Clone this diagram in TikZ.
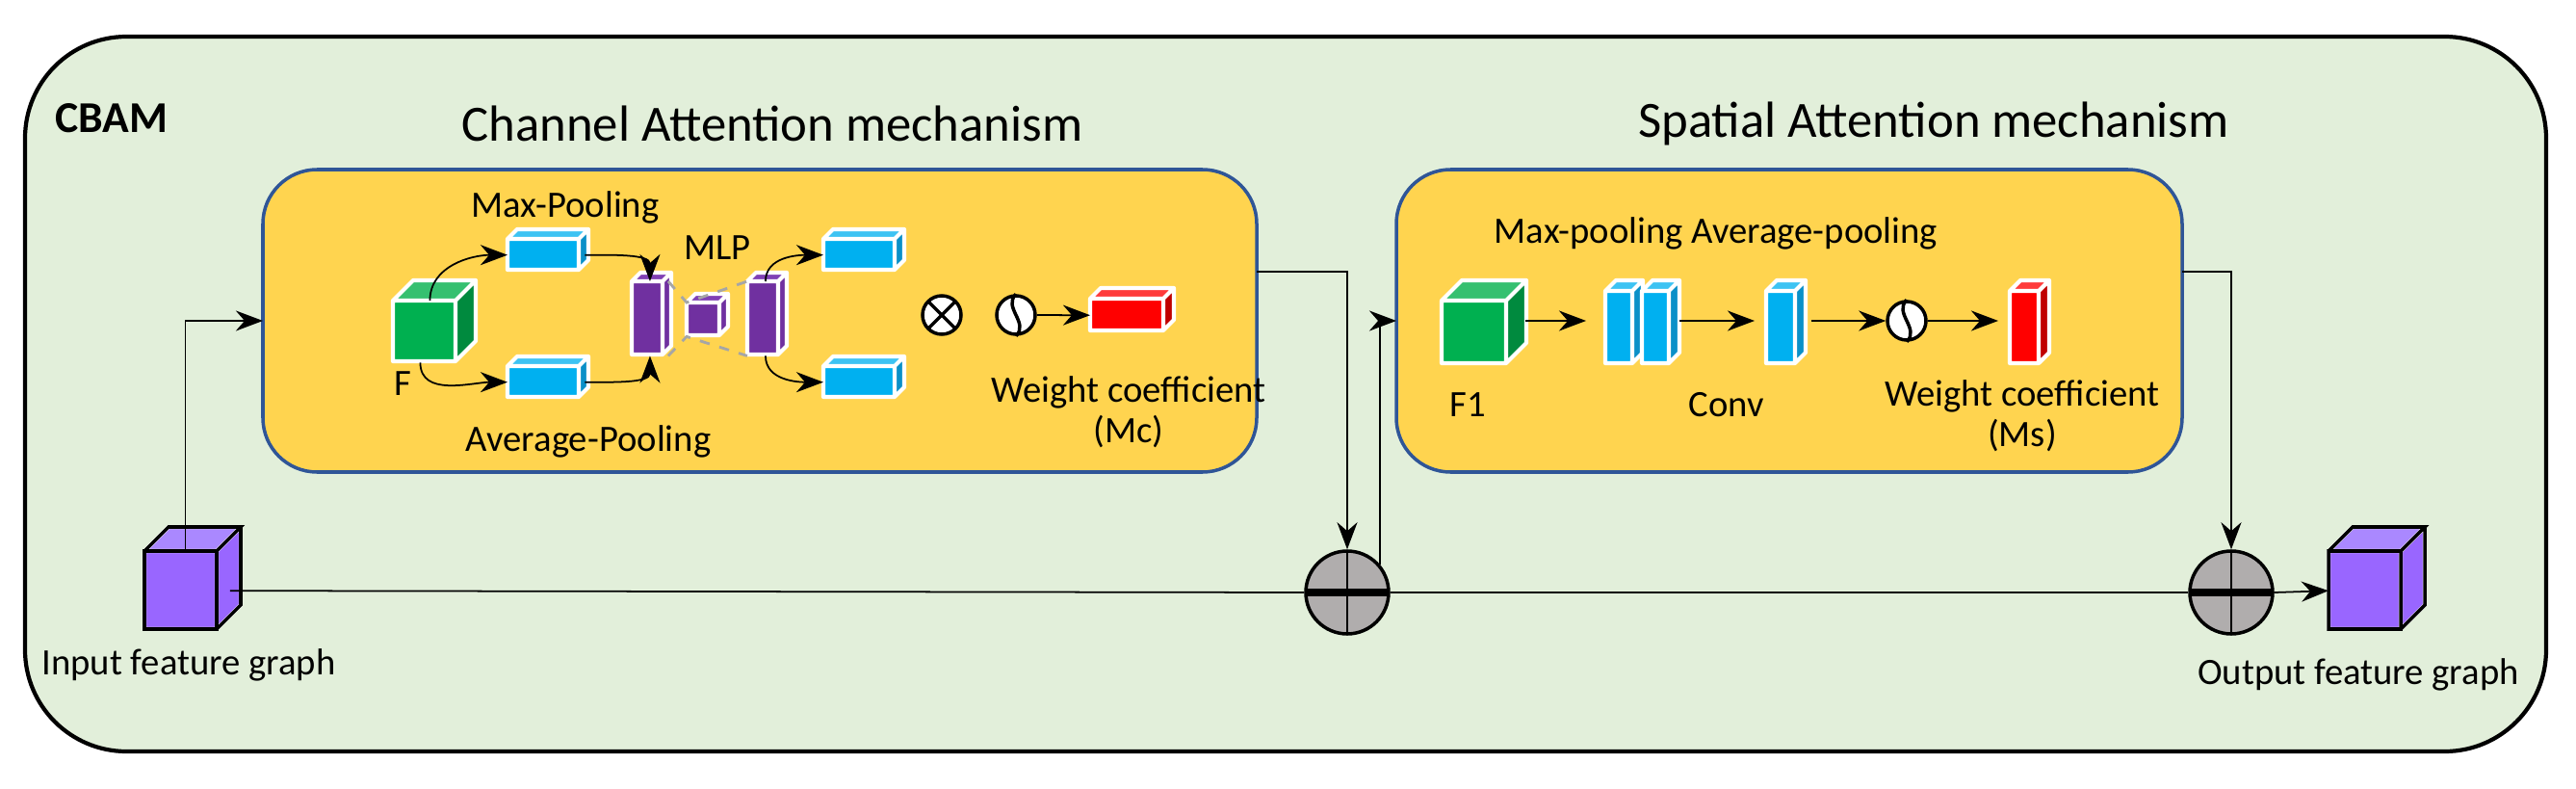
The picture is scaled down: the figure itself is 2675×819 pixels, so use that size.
\documentclass[tikz,border=0pt]{standalone}
\usepackage{fontspec}
\setmainfont{Carlito}
\usetikzlibrary{arrows.meta,calc}

\definecolor{bgGreen}{HTML}{E2EFDA}
\definecolor{boxYellow}{HTML}{FFD44F}
\definecolor{boxBlue}{HTML}{2F5597}
\definecolor{cBlue}{HTML}{00B0F0}
\definecolor{cBlueTop}{HTML}{3DC3F3}
\definecolor{cBlueSide}{HTML}{0A90C8}
\definecolor{cGreen}{HTML}{00B050}
\definecolor{cGreenTop}{HTML}{35C070}
\definecolor{cGreenSide}{HTML}{008A3E}
\definecolor{cPurple}{HTML}{7030A0}
\definecolor{cPurpleTop}{HTML}{8040B5}
\definecolor{cRed}{HTML}{FF0000}
\definecolor{cRedTop}{HTML}{FF3B3B}
\definecolor{cRedSide}{HTML}{C00000}
\definecolor{cViolet}{HTML}{9966FF}
\definecolor{cVioletTop}{HTML}{AA88FF}
\definecolor{cGray}{HTML}{B0ADAD}

% #1 name, #2 x, #3 y, #4 w, #5 h, #6 depth, #7 front, #8 top, #9 side
\newcommand{\prism}[9]{
  \fill[#8] (#2,#3) -- ++(#6,-#6) -- ++(#4,0) -- ++(-#6,#6) -- cycle;
  \fill[#9] (#2+#4,#3) -- ++(#6,-#6) -- ++(0,#5) -- ++(-#6,#6) -- cycle;
  \fill[#7] (#2,#3) rectangle ++(#4,#5);
  \draw[white, line width=1.2pt, line join=round] (#2,#3) -- ++(#6,-#6) -- ++(#4,0) -- ++(0,#5) -- ++(-#6,#6) -- ++(-#4,0) -- cycle (#2,#3) -- ++(#4,0) -- ++(#6,-#6) (#2+#4,#3) -- ++(0,#5);
  \node[inner sep=0, minimum width=#4*0.1mm+#6*0.05mm, minimum height=#5*0.1mm, anchor=north west] (#1) at (#2,#3) {};
}

\tikzset{
  lbl/.style={font=\fontsize{11}{12}\selectfont, align=center},
  ttl/.style={font=\fontsize{15}{16}\selectfont},
  arr/.style={-{Stealth[length=8pt,width=6pt]}, line width=0.5pt},
  ln/.style={line width=0.5pt},
  attbox/.style={draw=boxBlue, line width=1pt, fill=boxYellow, rounded corners=16pt},
  sig/.style={circle, draw, line width=1pt, fill=white, minimum size=40*0.1mm, inner sep=0},
  mul/.style={sig, path picture={\draw[line width=1pt] (path picture bounding box.north west) -- (path picture bounding box.south east) (path picture bounding box.north east) -- (path picture bounding box.south west);}},
  add/.style={circle, draw, line width=1pt, fill=cGray, minimum size=86*0.1mm, inner sep=0, path picture={\draw[line width=0.6pt] (path picture bounding box.north) -- (path picture bounding box.south); \draw[line width=2pt] (path picture bounding box.west) -- (path picture bounding box.east);}}
}

\begin{document}
\begin{tikzpicture}[x=0.1mm, y=-0.1mm]
\useasboundingbox (0,0) rectangle (2675,819);

\draw[line width=1.2pt, fill=bgGreen, rounded corners=30pt] (26,38) rectangle (2644,780);
\node[font=\bfseries\fontsize{13}{14}\selectfont] (cbam) at (116,123) {CBAM};

% channel attention
\node[ttl] (cat) at (802,128) {Channel Attention mechanism};
\draw[attbox] (273,176) rectangle (1305,490);
\coordinate (cin) at (273,333);
\coordinate (cout) at (1305,282);

\prism{F}{408}{312}{65}{63}{21}{cGreen}{cGreenTop}{cGreenSide}
\prism{mp}{527}{248}{74}{32}{10}{cBlue}{cBlueTop}{cBlueSide}
\prism{ap}{527}{380}{74}{32}{10}{cBlue}{cBlueTop}{cBlueSide}
\prism{mpo}{855}{248}{74}{32}{10}{cBlue}{cBlueTop}{cBlueSide}
\prism{apo}{855}{380}{74}{32}{10}{cBlue}{cBlueTop}{cBlueSide}
\prism{b1}{656}{292}{32}{76}{9}{cPurple}{cPurpleTop}{cPurple}
\prism{b2}{713}{314}{34}{34}{9}{cPurple}{cPurpleTop}{cPurple}
\prism{b3}{776}{292}{32}{76}{9}{cPurple}{cPurpleTop}{cPurple}
\prism{mc}{1132}{310}{76}{33}{11}{cRed}{cRedTop}{cRedSide}

\draw[gray!70, dashed, line width=0.8pt] (b1.north east) -- (b2.north west) -- (b3.north west) (b1.south east) -- (b2.south west) -- (b3.south west);

\node[lbl] (mptxt) at (587,215) {Max-Pooling};
\node[lbl] (aptxt) at (611,458) {Average-Pooling};
\node[lbl] (mlp) at (745,257) {MLP};
\node[lbl] (ftxt) at (418,398) {F};
\node[lbl] (mctxt) at (1172,428) {Weight coefficient\\(Mc)};

\node[mul] (mul) at (978,327) {};
\node[sig] (sg1) at (1055,327) {};
\draw[line width=1pt] (sg1.south) .. controls ($(sg1.center)+(14,8)$) and ($(sg1.center)+(-14,-8)$) .. (sg1.north);

\draw[arr] (F.north) to[out=90, in=180] (mp.west);
\draw[arr] ([xshift=-10*0.1mm]F.south) to[out=-90, in=180] (ap.west);
\draw[arr] (mp.east) to[out=0, in=90] (b1.north);
\draw[arr] (ap.east) to[out=0, in=-90] (b1.south);
\draw[arr] (b3.north) to[out=90, in=180] (mpo.west);
\draw[arr] (b3.south) to[out=-90, in=180] (apo.west);
\draw[arr] (sg1) -- (mc.west);

% spatial attention
\node[ttl] (sat) at (2008,128) {Spatial Attention mechanism};
\draw[attbox] (1450,176) rectangle (2266,490);
\coordinate (sin) at (1450,333);
\coordinate (sout) at (2266,282);

\prism{F1}{1497}{312}{67}{65}{21}{cGreen}{cGreenTop}{cGreenSide}
\prism{s1}{1667}{302}{28}{75}{11}{cBlue}{cBlueTop}{cBlueSide}
\prism{s2}{1705}{302}{28}{75}{11}{cBlue}{cBlueTop}{cBlueSide}
\prism{cv}{1834}{302}{30}{75}{11}{cBlue}{cBlueTop}{cBlueSide}
\prism{ms}{2087}{302}{30}{75}{11}{cRed}{cRedTop}{cRedSide}
\node[sig] (sg2) at (1980,333) {};
\draw[line width=1pt] (sg2.south) .. controls ($(sg2.center)+(14,8)$) and ($(sg2.center)+(-14,-8)$) .. (sg2.north);

\node[lbl] (mxav) at (1782,242) {Max-pooling Average-pooling};
\node[lbl] (f1txt) at (1524,420) {F1};
\node[lbl] (cvtxt) at (1793,420) {Conv};
\node[lbl] (mstxt) at (2100,432) {Weight coefficient\\(Ms)};

\draw[arr] ([xshift=8*0.1mm]F1.east|-sin) -- ([xshift=-20*0.1mm]s1.west|-sin);
\draw[arr] ([xshift=4*0.1mm]s2.east|-sin) -- ([xshift=-12*0.1mm]cv.west|-sin);
\draw[arr] ([xshift=10*0.1mm]cv.east|-sin) -- (sg2.west);
\draw[arr] (sg2.east) -- ([xshift=-12*0.1mm]ms.west|-sin);

% main path
\prism{inp}{150}{572}{75}{81}{25}{cViolet}{cVioletTop}{cViolet}
\draw[line width=1pt] (150,572) rectangle (225,653) (150,572) -- (175,547) -- (250,547) -- (225,572) (225,653) -- (250,628) -- (250,547);
\prism{outp}{2418}{572}{75}{81}{25}{cViolet}{cVioletTop}{cViolet}
\draw[line width=1pt] (2418,572) rectangle (2493,653) (2418,572) -- (2443,547) -- (2518,547) -- (2493,572) (2493,653) -- (2518,628) -- (2518,547);
\node[lbl] (intxt) at (196,690) {Input feature graph};
\node[lbl] (outtxt) at (2449,700) {Output feature graph};

\node[add] (add1) at (1399,615) {};
\node[add] (add2) at (2317,615) {};

\draw[arr] ([xshift=-2*0.1mm]inp.north) |- (cin);
\draw[arr] (cout) -| (add1.north);
\draw[arr] (add1.40) |- (sin);
\draw[arr] (sout) -| (add2.north);
\draw[ln] (inp.east) -- (add1.west);
\draw[ln] (add1.east) -- (add2.west);
\draw[arr] (add2.east) -- (outp.west);
\end{tikzpicture}
\end{document}
